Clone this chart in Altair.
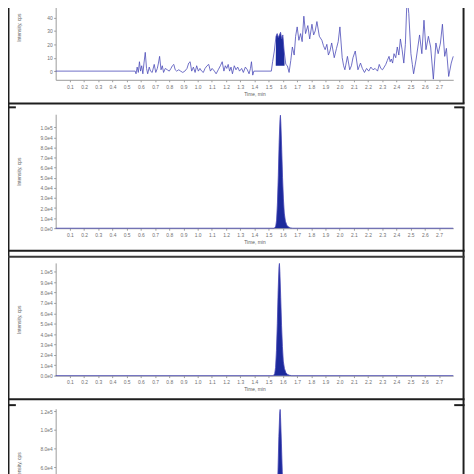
import altair as alt
import pandas as pd

# ---------------- data ----------------
time_ticks = [0.1, 0.2, 0.3, 0.4, 0.5, 0.6, 0.7, 0.8, 0.9, 1.0, 1.1, 1.2, 1.3, 1.4,
              1.5, 1.6, 1.7, 1.8, 1.9, 2.0, 2.1, 2.2, 2.3, 2.4, 2.5, 2.6, 2.7]

# panel 1: noisy low-level trace (cps)
p1_time = [0.0, 0.560, 0.566, 0.574, 0.582, 0.590, 0.598, 0.606, 0.614, 0.622, 0.631, 0.640,
           0.648, 0.659, 0.668, 0.680, 0.694, 0.705, 0.716, 0.724, 0.732, 0.742, 0.751, 0.760,
           0.772, 0.786, 0.800, 0.812, 0.822, 0.832, 0.842, 0.852, 0.867, 0.880, 0.895, 0.910,
           0.925, 0.937, 0.947, 0.958, 0.970, 0.982, 0.993, 1.005, 1.016, 1.028, 1.040, 1.052,
           1.066, 1.078, 1.090, 1.102, 1.118, 1.130, 1.145, 1.160, 1.173, 1.185, 1.195, 1.205,
           1.215, 1.225, 1.235, 1.245, 1.258, 1.270, 1.282, 1.295, 1.310, 1.322, 1.336, 1.350,
           1.362, 1.372, 1.379, 1.388, 1.396, 1.519, 1.528, 1.540, 1.552, 1.560, 1.568, 1.576,
           1.584, 1.592, 1.600, 1.609, 1.621, 1.632, 1.644, 1.656, 1.667, 1.680, 1.690, 1.701,
           1.713, 1.725, 1.736, 1.748, 1.760, 1.776, 1.789, 1.805, 1.817, 1.828, 1.840, 1.857,
           1.875, 1.886, 1.898, 1.910, 1.921, 1.932, 1.944, 1.962, 1.978, 1.990, 2.002, 2.018,
           2.028, 2.037, 2.055, 2.071, 2.083, 2.094, 2.110, 2.129, 2.147, 2.160, 2.175, 2.190,
           2.205, 2.220, 2.235, 2.250, 2.267, 2.279, 2.290, 2.302, 2.314, 2.325, 2.336, 2.348,
           2.356, 2.364, 2.373, 2.383, 2.395, 2.406, 2.417, 2.428, 2.440, 2.452, 2.463, 2.475,
           2.487, 2.502, 2.512, 2.521, 2.539, 2.551, 2.563, 2.579, 2.594, 2.608, 2.625, 2.641,
           2.660, 2.678, 2.694, 2.710, 2.724, 2.740, 2.752, 2.768, 2.786, 2.800]
p1_cps = [0, 0, -2, 3, -1, 7, 0, 4, -2, 6, 14, 2,
          -2, 3, 0, -1, 5, -1, 2, 6, 11, 1, 4, -1,
          2, 1, 0, 2, 4, 5, 1, 0, 1, 0, -1, 0,
          2, 6, 7, 0, 3, -1, 4, 0, 2, 0, -1, 2,
          4, 5, 0, 2, 0, -2, 1, 4, 7, 0, 4, 2,
          5, 0, 3, -2, 4, 1, 3, 0, 2, -1, 3, 1,
          -2, 2, 7, -3, 0, 0, 7, 15, 26, 28, 25, 27,
          29, 24, 27, 15, 5, 4, -1, 8, 18, 12, 26, 33,
          23, 28, 22, 41, 28, 34, 24, 35, 27, 30, 37, 26,
          23, 19, 16, 20, 12, 15, 21, 10, 17, 22, 33, 10,
          4, 1, 11, 1, 4, 10, 15, 1, 6, 2, -1, 2,
          0, 3, 1, 2, 0, 5, 2, 1, 3, 5, 8, 11,
          7, 9, 6, 13, 10, 18, 12, 24, 16, 6, 20, 56,
          43, 13, 5, -2, 9, 18, 27, 13, 38, 16, 26, 18,
          -6, 21, 13, 21, 35, 11, 17, -4, 6, 11]

# panel 1: integrated (filled) peak
p1_peak_time = [1.550, 1.552, 1.560, 1.568, 1.576, 1.584, 1.592, 1.600, 1.609, 1.612]
p1_peak_cps = [5, 26, 28, 25, 27, 29, 24, 27, 15, 5]
p1_peak_base = 4

# panels 2-4: single MRM peaks (cps)
p2_time = [0.0, 1.540, 1.550, 1.556, 1.562, 1.568, 1.574, 1.580, 1.583, 1.586, 1.592,
           1.598, 1.604, 1.610, 1.618, 1.628, 1.640, 1.655, 1.670, 2.8]
p2_cps = [0, 0, 2000, 8000, 25000, 52000, 85000, 108000, 112000, 104000, 78000,
          50000, 29000, 15000, 7000, 3000, 1200, 300, 0, 0]

p3_time = [0.0, 1.533, 1.543, 1.549, 1.555, 1.561, 1.567, 1.573, 1.576, 1.579, 1.585,
           1.591, 1.597, 1.603, 1.611, 1.621, 1.633, 1.648, 1.663, 2.8]
p3_cps = [0, 0, 2000, 8000, 24000, 50000, 82000, 105000, 108000, 100000, 75000,
          48000, 28000, 14000, 7000, 3000, 1100, 300, 0, 0]

p4_time = [0.0, 1.538, 1.548, 1.554, 1.560, 1.566, 1.572, 1.578, 1.581, 1.584, 1.590,
           1.596, 1.602, 1.608, 1.616, 1.626, 1.638, 1.653, 1.668, 2.8]
p4_cps = [0, 0, 2200, 9000, 27000, 57000, 93000, 118000, 122000, 113000, 85000,
          55000, 32000, 16000, 7500, 3200, 1300, 300, 0, 0]

p1_yticks = [0, 10, 20, 30, 40, 50]
p23_yticks = [0, 10000, 20000, 30000, 40000, 50000, 60000, 70000, 80000, 90000, 100000]
p4_yticks = [0, 20000, 40000, 60000, 80000, 100000, 120000]

# ---------------- styling / layout ----------------
W = 466
H = 466
LINE = "#4444b4"
FILL = "#1c2a9c"
EXP = "replace(format(datum.value, '.1e'), '+', '')"
AX_LEFT = 48.5          # y axis position inside the view
X_RANGE = [48.5, 453]
one = pd.DataFrame({"k": [0]})


def panel(df, peak_df, base, ydom, yrange, yticks, label_expr, x_axis_y,
          title_y=None, line_color=LINE, line_w=0.8):
    yax_kwargs = dict(values=yticks, title="Intensity, cps", orient="left",
                      offset=-AX_LEFT, labelExpr=label_expr, titleX=-35)
    if title_y is not None:
        yax_kwargs["titleY"] = title_y
    yax = alt.Axis(**yax_kwargs)
    if x_axis_y is not None:
        xax = alt.Axis(values=time_ticks, format=".1f", title="Time, min",
                       orient="bottom", offset=x_axis_y - H, labelFlush=False,
                       labelPadding=2.5, titlePadding=2)
    else:
        xax = None
    xs = alt.X("time:Q", scale=alt.Scale(domain=[0, 2.8], range=X_RANGE, nice=False,
                                         zero=False), axis=xax)
    ys = alt.Y("cps:Q", scale=alt.Scale(domain=ydom, range=yrange, nice=False,
                                        zero=False), axis=yax)
    area = alt.Chart(peak_df).mark_area(color=FILL, opacity=1).encode(
        x=xs, y=ys, y2=alt.datum(base))
    line = alt.Chart(df).mark_line(color=line_color, strokeWidth=line_w).encode(x=xs, y=ys)
    return alt.layer(area, line)


def hrule(y, x1, x2, color="#1e1e1e", w=2):
    return alt.Chart(one).mark_rule(color=color, strokeWidth=w).encode(
        x=alt.value(x1), x2=alt.value(x2), y=alt.value(y))


def vrule(x, y1, y2, color="#1e1e1e", w=2):
    return alt.Chart(one).mark_rule(color=color, strokeWidth=w).encode(
        x=alt.value(x), y=alt.value(y1), y2=alt.value(y2))


df1 = pd.DataFrame({"time": p1_time, "cps": p1_cps})
pk1 = pd.DataFrame({"time": p1_peak_time, "cps": p1_peak_cps})
df2 = pd.DataFrame({"time": p2_time, "cps": p2_cps})
df3 = pd.DataFrame({"time": p3_time, "cps": p3_cps})
df4 = pd.DataFrame({"time": p4_time, "cps": p4_cps})

c1 = panel(df1, pk1, p1_peak_base, [-6.5, 50], [69, -8], p1_yticks,
           "format(datum.value, 'd')", 69, title_y=15.5, line_color="#4a4ab8")
c2 = panel(df2, df2.iloc[1:-1], 0, [0, 113000], [220, 104], p23_yticks, EXP, 220)
c3 = panel(df3, df3.iloc[1:-1], 0, [0, 108500], [370, 255.3], p23_yticks, EXP, 370)
c4 = panel(df4, df4.iloc[1:-1], 0, [0, 122740], [520, 403.7], p4_yticks, EXP, None)

frames = [
    vrule(0.75, -5, H + 5, w=1.5),          # left border
    vrule(463.5, -5, 93),                   # right border, panel 1
    vrule(463.5, 97, H + 5),                # right border, lower panels
    hrule(93, 0, 464.5),                    # bottom of panel 1
    hrule(97, 0, 8), hrule(97, 454, 464.5),  # corner stubs, panel 2
    hrule(243, 0, 464.5),                   # bottom of panel 2
    hrule(249, 0, 464.5, color="#3a3a3a"),  # top of panel 3
    hrule(394, 0, 464.5),                   # bottom of panel 3
    hrule(400, 0, 8), hrule(400, 454, 464.5),  # corner stubs, panel 4
]

chart = alt.layer(c1, c2, c3, c4, *frames).resolve_scale(
    x="independent", y="independent"
).properties(
    width=W, height=H, padding=0, background="white",
    autosize=alt.AutoSizeParams(type="none"),
).configure_view(strokeWidth=0).configure_axis(
    labelFont="Liberation Sans", titleFont="Liberation Sans",
    labelFontSize=5, titleFontSize=5, titleFontWeight="normal",
    labelColor="#707070", titleColor="#606060",
    domainColor="#9a9a9a", tickColor="#9a9a9a", tickSize=2, labelPadding=1.5,
    grid=False, domainWidth=1,
)

chart.save("out.html", embed_options={"renderer": "svg", "actions": False})
